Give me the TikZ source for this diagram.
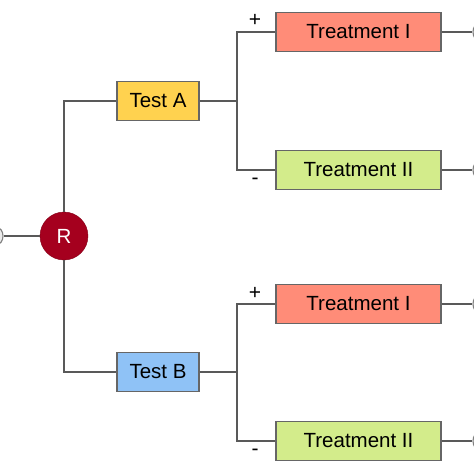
\documentclass[tikz,border=0pt]{standalone}
\usepackage{fontspec}
\setmainfont{Liberation Sans}
\usetikzlibrary{shapes.geometric}
\begin{document}
\begin{tikzpicture}[x=1pt,y=-1pt,
  conn/.style={draw=black!65, line width=1.4pt},
  box/.style={draw=black!60, line width=1.1pt, minimum height=39pt, inner sep=0pt, font=\fontsize{20.5}{23}\selectfont},
  testbox/.style={box, minimum width=82pt},
  treatbox/.style={box, minimum width=165pt},
  term/.style={ellipse, draw=black!50, fill=black!8, line width=1.1pt, minimum width=12pt, minimum height=17pt, inner sep=0pt},
  sign/.style={font=\fontsize{21}{24}\selectfont}
]
\useasboundingbox (0,0) rectangle (474,474);
\definecolor{rred}{HTML}{A5001E}
\definecolor{gold}{HTML}{FFD24F}
\definecolor{salmon}{HTML}{FF8C78}
\definecolor{lgreen}{HTML}{D3EC8B}
\definecolor{lblue}{HTML}{8FC2F6}

\begin{scope}
\clip (0,0) rectangle (474,474);
\node[term] (L) at (-3,236) {};
\node[term] (E1) at (479,32) {};
\node[term] (E2) at (479,170) {};
\node[term] (E3) at (479,304) {};
\node[term] (E4) at (479,441) {};
\end{scope}

\node[circle, fill=rred, draw=rred!80!black, minimum size=48pt, inner sep=0pt, text=white, font=\fontsize{20.5}{23}\selectfont] (R) at (64,236) {R};

\node[testbox, fill=gold] (TA) at (158,101) {Test A};
\node[testbox, fill=lblue] (TB) at (158,372) {Test B};

\node[treatbox, fill=salmon] (A1) at (358.5,32) {Treatment I};
\node[treatbox, fill=lgreen] (A2) at (358.5,170) {Treatment II};
\node[treatbox, fill=salmon] (B1) at (358.5,304) {Treatment I};
\node[treatbox, fill=lgreen] (B2) at (358.5,441) {Treatment II};

\coordinate (ja) at (237,101);
\coordinate (jb) at (237,372);

\draw[conn] (L.east) -- (R.west);
\draw[conn] (R.north) |- (TA.west);
\draw[conn] (R.south) |- (TB.west);
\draw[conn] (TA.east) -- (ja);
\draw[conn] (TB.east) -- (jb);
\draw[conn] (A1.west) -| (ja) |- (A2.west);
\draw[conn] (B1.west) -| (jb) |- (B2.west);
\draw[conn] (A1.east) -- (E1.west);
\draw[conn] (A2.east) -- (E2.west);
\draw[conn] (B1.east) -- (E3.west);
\draw[conn] (B2.east) -- (E4.west);

\node[sign] (pa) at (255,20) {+};
\node[sign] (ma) at (255,181) {-};
\node[sign] (pb) at (255,293) {+};
\node[sign] (mb) at (255,452) {-};
\end{tikzpicture}
\end{document}
